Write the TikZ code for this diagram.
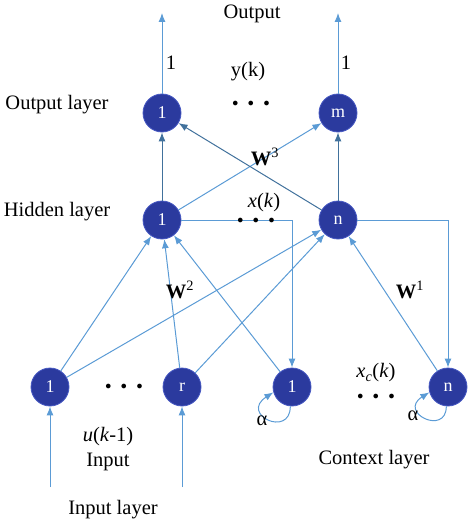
\documentclass[tikz,border=0pt]{standalone}
\usepackage{fontspec}
\setmainfont{Liberation Serif}
\usetikzlibrary{arrows.meta}
\definecolor{linkblue}{HTML}{5B9BD5}
\definecolor{darklink}{HTML}{41719C}
\definecolor{nodeblue}{HTML}{2B3A9E}
\definecolor{rimblue}{HTML}{4658C2}
\tikzset{
	neuron/.style={circle,minimum size=38pt,inner sep=0pt,fill=nodeblue,draw=rimblue,line width=0.8pt,text=white,font=\fontsize{18}{20}\selectfont},
	link/.style={draw=linkblue,line width=1pt,-{Latex[length=9pt,width=7pt]}},
	lbl/.style={font=\fontsize{20.5}{24}\selectfont,inner sep=0pt},
	dotrow/.style={font=\fontsize{13}{14}\selectfont,inner sep=0pt}
}
\newcommand{\threedots}{$\bullet\hspace{7pt}\bullet\hspace{7pt}\bullet$}
\begin{document}
\begin{tikzpicture}[x=1pt,y=-1pt]
	\useasboundingbox (0,0) rectangle (474,524);
	\node[neuron] (o1) at (162,113) {1};
	\node[neuron] (om) at (338,113) {m};
	\node[neuron] (h1) at (162,220) {1};
	\node[neuron] (hn) at (338,220) {n};
	\node[neuron] (i1) at (50,387) {1};
	\node[neuron] (ir) at (182,387) {r};
	\node[neuron] (c1) at (292,387) {1};
	\node[neuron] (cn) at (448,387) {n};
	\coordinate (y1) at (162,13);
	\coordinate (ym) at (338,13);
	\coordinate (u1) at (50,487);
	\coordinate (ur) at (182,487);
	\draw[link] (o1) -- (y1);
	\draw[link] (om) -- (ym);
	\draw[link] (u1) -- (i1);
	\draw[link] (ur) -- (ir);
	\draw[link,draw=darklink] (h1) -- (o1);
	\draw[link] (h1) -- (om);
	\draw[link,draw=darklink] (hn) -- (o1);
	\draw[link,draw=darklink] (hn) -- (om);
	\draw[link] (i1) -- (h1);
	\draw[link] (i1) -- (hn);
	\draw[link] (ir) -- (h1);
	\draw[link] (ir) -- (hn);
	\draw[link] (c1) -- (h1);
	\draw[link] (cn) -- (hn);
	\draw[link] (h1) -| (c1);
	\draw[link] (hn) -| (cn);
	\draw[link] (c1.-95) .. controls +(0,32) and +(-34,22) .. (c1.196);
	\draw[link] (cn.-95) .. controls +(0,30) and +(-32,20) .. (cn.196);
	\node[lbl] (outtxt) at (252,14) {Output};
	\node[lbl] (one1) at (171,63) {1};
	\node[lbl] (onem) at (346,63) {1};
	\node[lbl] (yk) at (248,72) {y(k)};
	\node[dotrow] (outdots) at (251,104) {\threedots};
	\node[lbl] (outlayer) at (57,105) {Output layer};
	\node[lbl] (hidlayer) at (57,212) {Hidden layer};
	\node[lbl] (w3) at (265,157) {\textbf{W}\textsuperscript{3}};
	\node[lbl] (xk) at (264,203) {\textit{x}(\textit{k})};
	\node[dotrow] (hiddots) at (256,221) {\threedots};
	\node[lbl] (w2) at (180,290) {\textbf{W}\textsuperscript{2}};
	\node[lbl] (w1) at (410,290) {\textbf{W}\textsuperscript{1}};
	\node[dotrow] (indots) at (124,387) {\threedots};
	\node[lbl] (xck) at (376,373) {\textit{x}\textsubscript{\textit{c}}(\textit{k})};
	\node[dotrow] (condots) at (376,397) {\threedots};
	\node[lbl] (alpha1) at (262,421) {α};
	\node[lbl] (alphan) at (413,416) {α};
	\node[lbl] (ukm) at (108,437) {\textit{u}(\textit{k}-1)};
	\node[lbl] (intxt) at (108,462) {Input};
	\node[lbl] (conlayer) at (374,460) {Context layer};
	\node[lbl] (inlayer) at (113,510) {Input layer};
\end{tikzpicture}
\end{document}
